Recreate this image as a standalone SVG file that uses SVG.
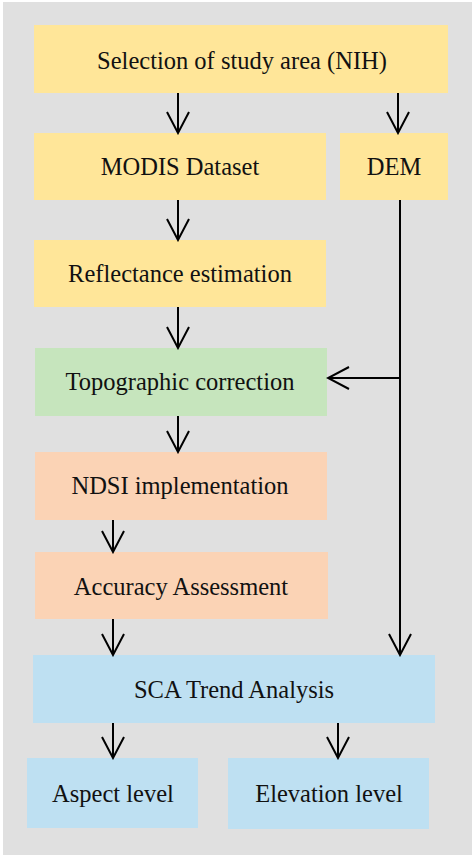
<svg xmlns="http://www.w3.org/2000/svg" width="474" height="858" viewBox="0 0 474 858">
<style>
.t{font-family:"Liberation Serif","Times New Roman",serif;font-size:24.5px;fill:#111;text-anchor:middle}
.y{fill:#FFE699}.g{fill:#C6E5BD}.o{fill:#FBD3B5}.b{fill:#BEE0F2}
.c{stroke:#000;stroke-width:2;fill:none}
</style>
<defs>
<marker id="ah" markerWidth="24" markerHeight="24" viewBox="-22 -12 24 24" refX="0" refY="0" orient="auto" markerUnits="userSpaceOnUse">
<path d="M-21,-11 L0,0 L-21,11" fill="none" stroke="#000" stroke-width="2"/>
</marker>
</defs>
<rect x="0" y="0" width="474" height="858" fill="#fff"/>
<rect x="3" y="2" width="469" height="853" fill="#E0E0E0"/>
<g id="selection"><rect class="y" x="34" y="25" width="414" height="68"/><text class="t" x="242" y="69">Selection of study area (NIH)</text></g>
<g id="modis"><rect class="y" x="34" y="133" width="292" height="67"/><text class="t" x="180" y="175">MODIS Dataset</text></g>
<g id="dem"><rect class="y" x="340" y="133" width="108" height="67"/><text class="t" x="394" y="175">DEM</text></g>
<g id="reflectance"><rect class="y" x="34" y="240" width="292" height="67"/><text class="t" x="180" y="282">Reflectance estimation</text></g>
<g id="topo"><rect class="g" x="35" y="348" width="292" height="68"/><text class="t" x="180" y="390">Topographic correction</text></g>
<g id="ndsi"><rect class="o" x="35" y="452" width="292" height="68"/><text class="t" x="180" y="494">NDSI implementation</text></g>
<g id="accuracy"><rect class="o" x="35" y="552" width="293" height="67"/><text class="t" x="181" y="595">Accuracy Assessment</text></g>
<g id="sca"><rect class="b" x="33" y="655" width="402" height="68"/><text class="t" x="234" y="698">SCA Trend Analysis</text></g>
<g id="aspect"><rect class="b" x="27" y="758" width="171" height="70"/><text class="t" x="113" y="802">Aspect level</text></g>
<g id="elevation"><rect class="b" x="228" y="758" width="201" height="71"/><text class="t" x="329" y="802">Elevation level</text></g>
<g id="connectors">
<line class="c" x1="178" y1="93" x2="178" y2="133" marker-end="url(#ah)"/>
<line class="c" x1="398" y1="93" x2="398" y2="133" marker-end="url(#ah)"/>
<line class="c" x1="178" y1="200" x2="178" y2="240" marker-end="url(#ah)"/>
<line class="c" x1="178" y1="307" x2="178" y2="348" marker-end="url(#ah)"/>
<line class="c" x1="400" y1="200" x2="400" y2="655" marker-end="url(#ah)"/>
<line class="c" x1="400" y1="378" x2="328" y2="378" marker-end="url(#ah)"/>
<line class="c" x1="178" y1="416" x2="178" y2="452" marker-end="url(#ah)"/>
<line class="c" x1="113" y1="520" x2="113" y2="552" marker-end="url(#ah)"/>
<line class="c" x1="113" y1="619" x2="113" y2="655" marker-end="url(#ah)"/>
<line class="c" x1="113" y1="723" x2="113" y2="758" marker-end="url(#ah)"/>
<line class="c" x1="338" y1="723" x2="338" y2="758" marker-end="url(#ah)"/>
</g>
</svg>
